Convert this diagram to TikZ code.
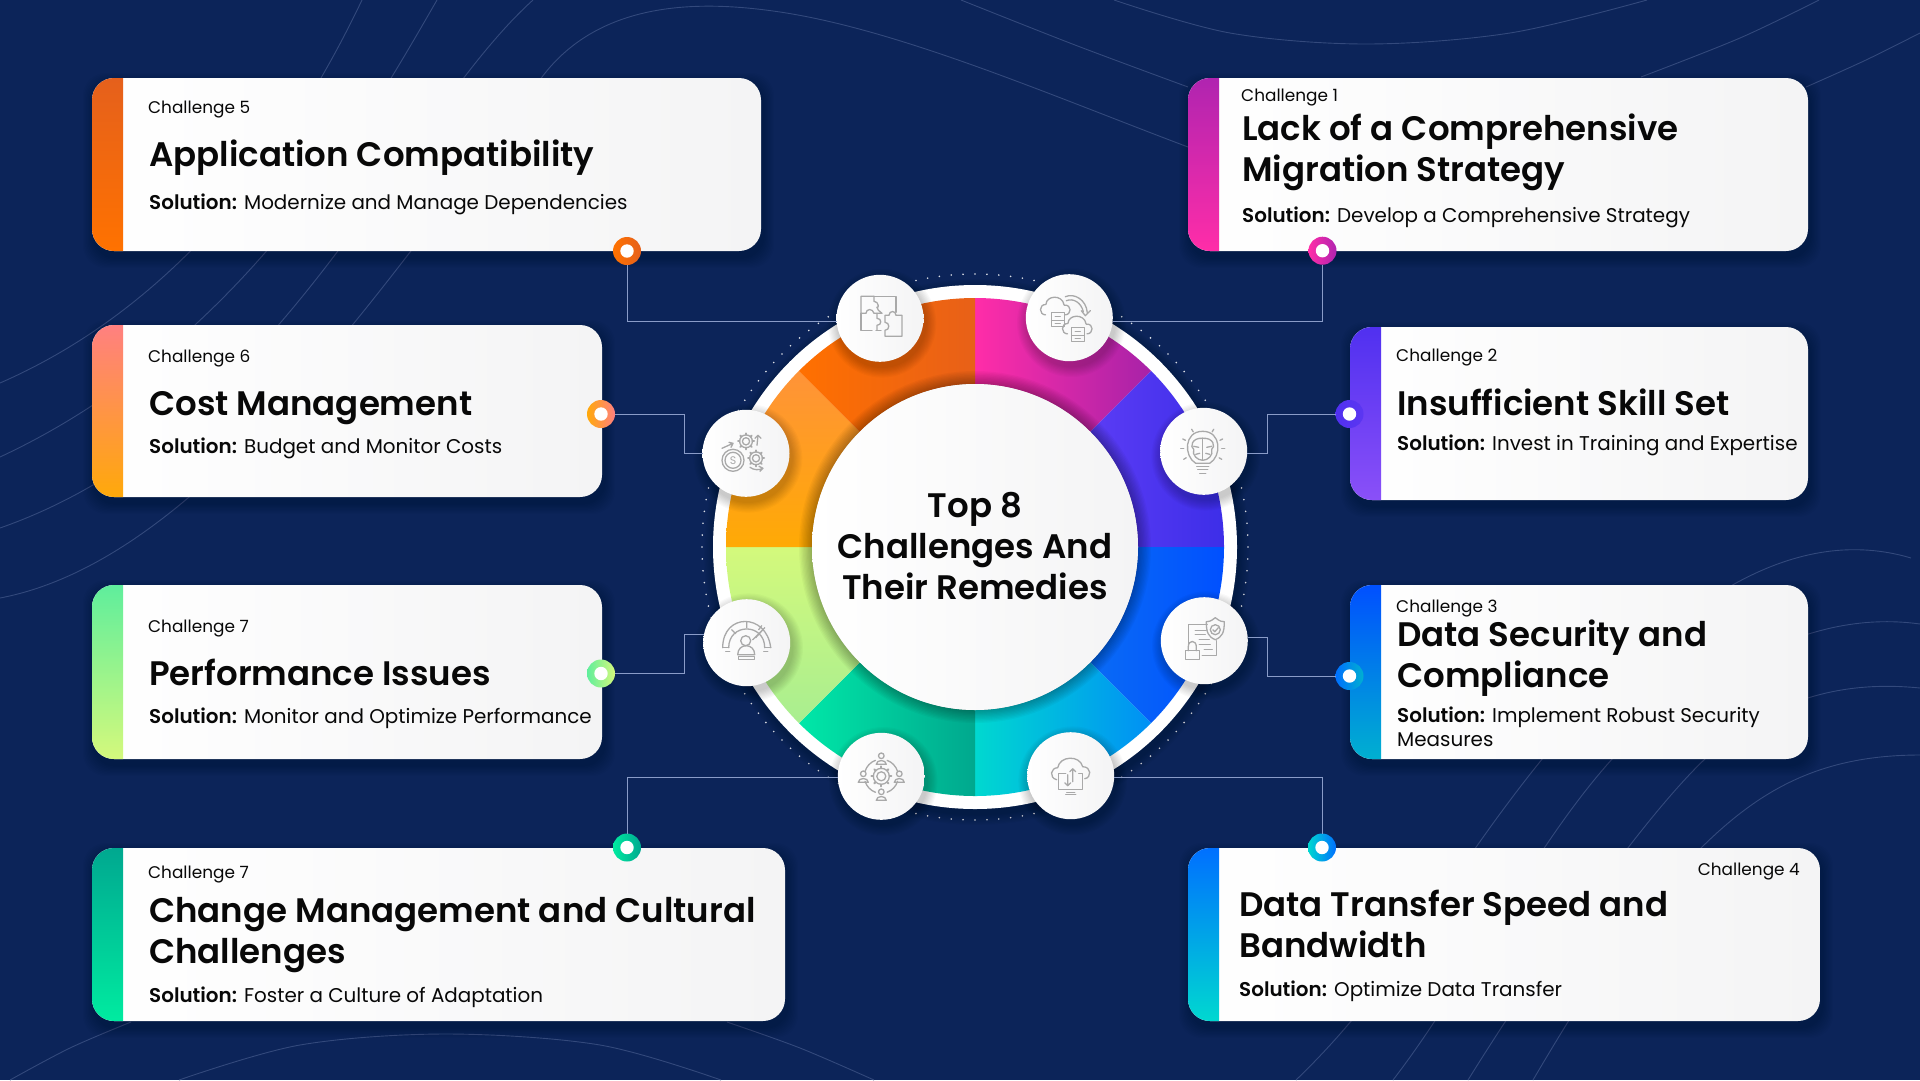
\documentclass[tikz,border=0pt]{standalone}
\usepackage{fontspec}
\setmainfont{Poppins}
\newfontfamily\semib{Poppins SemiBold}
\usetikzlibrary{calc}
\definecolor{bgnavy}{HTML}{0C2459}
\definecolor{bgline}{HTML}{33497C}
\definecolor{wirecol}{HTML}{8A9CC8}
\definecolor{cardend}{HTML}{F4F4F5}
\definecolor{iconcol}{HTML}{A9A9A9}
\definecolor{inkcol}{HTML}{080808}
\newcommand{\hx}[2]{\definecolor{#1}{HTML}{#2}}
\hx{ca}{B024B0}\hx{cb}{FF2DA8}
\hx{cc}{5030F0}\hx{cd}{8A50F8}
\hx{ce}{0050FF}\hx{cf}{00B0D0}
\hx{cg}{0070FF}\hx{ch}{00D8D0}
\hx{ci}{E5601C}\hx{cj}{FF7200}
\hx{ck}{FF8080}\hx{cl}{FFA90A}
\hx{cm}{5FEE9C}\hx{cn}{D4F97C}
\hx{co}{00A890}\hx{cp}{00EBA0}
\hx{wa}{FF2DA8}\hx{wb}{A822A8}
\hx{wc}{5B3CF5}\hx{wd}{3D2EE8}
\hx{we}{0A6BF5}\hx{wf}{0050FF}
\hx{wg}{00D8D0}\hx{wh}{0090F5}
\hx{wi}{00E8A8}\hx{wj}{00A88E}
\hx{wk}{D4F97C}\hx{wl}{A8EE90}
\hx{wm}{FF9338}\hx{wn}{FFAA05}
\hx{wo}{FF7000}\hx{wp}{E86018}
\tikzset{
  bgcurve/.style={draw=bgline,line width=0.9pt},
  bgsmooth/.style={draw=bgline,line width=0.9pt,smooth,tension=0.55},
  wire/.style={draw=wirecol,line width=1pt},
  cardbox/.style={rounded corners=22pt,left color=white,right color=cardend,inner sep=0pt,outer sep=0pt,anchor=north west},
  iconbox/.style={circle,minimum size=87pt,inner sep=0pt,outer sep=0pt,left color=white,right color=cardend},
  hubbox/.style={circle,minimum size=326pt,inner sep=0pt,outer sep=0pt,left color=white,right color=cardend},
  pin/.style={circle,minimum size=28pt,inner sep=0pt,outer sep=0pt,path picture={\fill[white] (path picture bounding box.center) circle (6.7pt);}},
  tagtext/.style={anchor=base west,inner sep=0pt,text=inkcol,font=\fontsize{16.9}{21}\selectfont},
  headtext/.style={anchor=base west,inner sep=0pt,align=left,text=inkcol,font=\fontsize{34}{40.5}\selectfont\semib},
  bodytext/.style={anchor=base west,inner sep=0pt,align=left,text=inkcol,font=\fontsize{19.9}{24}\selectfont},
  ic/.style={draw=iconcol,line width=1.3pt,line cap=round,line join=round},
}
\newcommand{\softshadow}[4]{%
  \foreach \i in {1,...,9}{%
    \fill[black,opacity=0.02,rounded corners=22pt] (#1-\i*1.2+2,#2-\i*1.2+6) rectangle (#3+\i*1.2+2,#4+\i*1.2+6);}}
\newcommand{\roundshadow}[3]{%
  \foreach \i in {1,...,9}{%
    \fill[black,opacity=0.025] (#1+2,#2+5) circle ({(#3+\i*1.2)*1pt});}}
\newcommand{\cardbar}[6]{% x barx ytop ybot colour colour
  \shade[top color=#5,bottom color=#6] (#2,#3) [rounded corners=22pt] -- (#1,#3) -- (#1,#4) [sharp corners] -- (#2,#4) -- cycle;}
\newcommand{\wheelpart}[3]{% from to style
  \shade[#3] ($(975,547)+(#1:163)$) arc (#1:#2:163pt) -- ($(975,547)+(#2:249)$) arc (#2:#1:249pt) -- cycle;}
\newcommand{\cloudmark}[3]{%
  \begin{scope}[shift={(#1,#2)},scale=#3]
  \draw[ic] (-0.75,0.55) .. controls (-1.25,0.55) and (-1.3,-0.25) .. (-0.72,-0.25) .. controls (-0.7,-0.95) and (0.55,-1.05) .. (0.68,-0.2) .. controls (1.3,-0.25) and (1.25,0.55) .. (0.75,0.55);
  \end{scope}}
\newcommand{\gearmark}[3]{%
  \draw[ic] (#1,#2) circle ({#3*0.45pt});
  \draw[ic] (#1,#2) circle ({#3*0.8pt});
  \foreach \a in {0,45,...,315}{\draw[ic,line width=2pt] ($(#1,#2)+(\a:#3*0.8)$) -- ($(#1,#2)+(\a:#3)$);}}
\newcommand{\personmark}[2]{%
  \draw[ic] (#1,#2-2.5) circle (2.8pt);
  \draw[ic] (#1-5,#2+6) .. controls (#1-5,#2+1) and (#1+5,#2+1) .. (#1+5,#2+6) -- cycle;}
\begin{document}
\begin{tikzpicture}[x=1pt,y=1pt,yscale=-1]
\useasboundingbox (0,0) rectangle (1920,1080);
\fill[bgnavy] (0,0) rectangle (1920,1080);

% background curves
\draw[bgcurve] (362,0) .. controls (300,130) and (190,300) .. (0,383);
\draw[bgcurve] (437,0) .. controls (365,125) and (240,345) .. (0,457);
\draw[bgcurve] (533,0) .. controls (400,120) and (280,430) .. (0,528);
\draw[bgcurve] (0,598) .. controls (200,560) and (380,290) .. (542,77) .. controls (600,0) and (700,0) .. (780,12) .. controls (900,30) and (1050,95) .. (1188,147);
\draw[bgsmooth] plot coordinates {(961,0)(1075,45)(1188,87)};
\draw[bgsmooth] plot coordinates {(1114,0)(1230,33)(1366,44)(1510,33)(1647,0)};
\draw[bgsmooth] plot coordinates {(1819,0)(1740,38)(1641,77)};
\draw[bgsmooth] plot coordinates {(1920,33)(1866,60)(1806,87)};
\draw[bgsmooth] plot coordinates {(131,1022)(70,1048)(10,1080)};
\draw[bgsmooth] plot coordinates {(179,1080)(300,1045)(446,1034)(600,1045)(721,1080)};
\draw[bgsmooth] plot coordinates {(727,1022)(800,1048)(874,1080)};
\draw[bgcurve] (1911,558) .. controls (1800,525) and (1680,590) .. (1543,758) .. controls (1440,885) and (1400,980) .. (1296,1080);
\draw[bgcurve] (1920,624) .. controls (1820,610) and (1720,660) .. (1613,758) .. controls (1530,850) and (1470,980) .. (1393,1080);
\draw[bgcurve] (1920,688) .. controls (1840,680) and (1770,700) .. (1706,758) .. controls (1640,820) and (1530,980) .. (1468,1080);
\draw[bgcurve] (1920,755) .. controls (1820,755) and (1760,790) .. (1702,847) .. controls (1630,920) and (1580,1000) .. (1533,1080);

% dotted orbit
\foreach \a in {0,2.5,...,357.5}{\fill[white,opacity=0.85] ($(975,547)+(\a:273)$) circle (0.9pt);}

% card shadows
\softshadow{92}{78}{761}{251}
\softshadow{92}{325}{602}{497}
\softshadow{92}{585}{602}{759}
\softshadow{92}{848}{785}{1021}
\softshadow{1188}{78}{1808}{251}
\softshadow{1350}{327}{1808}{500}
\softshadow{1350}{585}{1808}{759}
\softshadow{1188}{848}{1820}{1021}

% cards
\node[cardbox,minimum width=669pt,minimum height=173pt] (card5) at (92,78) {};
\node[cardbox,minimum width=510pt,minimum height=172pt] (card6) at (92,325) {};
\node[cardbox,minimum width=510pt,minimum height=174pt] (card7a) at (92,585) {};
\node[cardbox,minimum width=693pt,minimum height=173pt] (card7b) at (92,848) {};
\node[cardbox,minimum width=620pt,minimum height=173pt] (card1) at (1188,78) {};
\node[cardbox,minimum width=458pt,minimum height=173pt] (card2) at (1350,327) {};
\node[cardbox,minimum width=458pt,minimum height=174pt] (card3) at (1350,585) {};
\node[cardbox,minimum width=632pt,minimum height=173pt] (card4) at (1188,848) {};
\cardbar{92}{123}{78}{251}{ci}{cj}
\cardbar{92}{123}{325}{497}{ck}{cl}
\cardbar{92}{123}{585}{759}{cm}{cn}
\cardbar{92}{123}{848}{1021}{co}{cp}
\cardbar{1188}{1219}{78}{251}{ca}{cb}
\cardbar{1350}{1381}{327}{500}{cc}{cd}
\cardbar{1350}{1381}{585}{759}{ce}{cf}
\cardbar{1188}{1219}{848}{1021}{cg}{ch}

% wheel
\roundshadow{975}{547}{262}
\fill[white] (975,547) circle (262pt);
\wheelpart{270}{315}{left color=wa,right color=wb}
\wheelpart{315}{360}{left color=wc,right color=wd}
\wheelpart{0}{45}{left color=we,right color=wf}
\wheelpart{45}{90}{left color=wg,right color=wh}
\wheelpart{90}{135}{left color=wi,right color=wj}
\wheelpart{135}{180}{top color=wk,bottom color=wl}
\wheelpart{180}{225}{top color=wm,bottom color=wn}
\wheelpart{225}{270}{left color=wo,right color=wp}
\foreach \i in {1,...,10}{\fill[black,opacity=0.03] (975,547) circle ({(163+\i*1.3)*1pt});}
\node[hubbox] (hub) at (975,547) {};
\node[inner sep=0pt,align=center,text=inkcol,font=\fontsize{34}{41}\selectfont\semib] (hubtext) at (975,546) {Top 8\\Challenges And\\Their Remedies};

% icon discs
\roundshadow{1069.3}{317.7}{43.5}
\roundshadow{1203.7}{451.3}{43.5}
\roundshadow{1204.3}{640.7}{43.5}
\roundshadow{1070.7}{775.7}{43.5}
\roundshadow{880}{318.3}{43.5}
\roundshadow{746}{453.3}{43.5}
\roundshadow{746.7}{642.7}{43.5}
\roundshadow{881.3}{776.3}{43.5}
\node[iconbox] (ic1) at (1069.3,317.7) {};
\node[iconbox] (ic2) at (1203.7,451.3) {};
\node[iconbox] (ic3) at (1204.3,640.7) {};
\node[iconbox] (ic4) at (1070.7,775.7) {};
\node[iconbox] (ic5) at (880,318.3) {};
\node[iconbox] (ic6) at (746,453.3) {};
\node[iconbox] (ic7) at (746.7,642.7) {};
\node[iconbox] (ic8) at (881.3,776.3) {};

% pins
\node[pin,left color=cb,right color=ca] (d1) at (1322.5,250.7) {};
\node[pin,left color=cc,right color=cc!80!cd] (d2) at (1349.5,414) {};
\node[pin,left color=cg,right color=cf] (d3) at (1349.5,676) {};
\node[pin,left color=ch,right color=cg] (d4) at (1322,847.5) {};
\node[pin,left color=cj,right color=ci] (d5) at (627,251) {};
\node[pin,left color=cl,right color=ck] (d6) at (601,414) {};
\node[pin,left color=cm,right color=cn] (d7) at (601,673.5) {};
\node[pin,left color=cp,right color=co] (d8) at (627,847.5) {};

% connectors
\coordinate (k2) at (1267,430);
\coordinate (k3) at (1267,660);
\coordinate (k6) at (684.5,430);
\coordinate (k7) at (684.5,660);
\draw[wire] (d1) |- ($(ic1.east)+(0,3.6)$);
\draw[wire] (d2) -| (k2) |- ($(ic2.east)+(0,2)$);
\draw[wire] (d3) -| (k3) |- ($(ic3.east)+(0,-3.7)$);
\draw[wire] (d4) |- ($(ic4.east)+(0,1.3)$);
\draw[wire] (d5) |- ($(ic5.west)+(0,2.7)$);
\draw[wire] (d6) -| (k6) |- (ic6.west);
\draw[wire] (d7) -| (k7) |- ($(ic7.west)+(0.6,-8.7)$);
\draw[wire] (d8) |- ($(ic8.west)+(0,0.7)$);

% icon 5: puzzle
\begin{scope}[shift={(880,318.3)}]
\draw[ic] (-6,-22)--(-19,-22)--(-19,-5)--(-14,-5) .. controls (-14,-10) and (-7,-10) .. (-6,-5)--(2,-5) .. controls (-1,-8) and (-3,-8) .. (-3,-11);
\draw[ic] (-19,-5)--(-19,12)--(-8,12);
\draw[ic] (-6,-22)--(-6,-17) .. controls (-1,-17) and (-1,-9) .. (-3,-11) ;
\draw[ic] (-6,-22)--(16,-22)--(16,-6);
\draw[ic] (5,-3)--(9,-3) .. controls (9,-8) and (16,-8) .. (16,-3)--(22,-3)--(22,18)--(5,18)--(5,12) .. controls (10,12) and (10,4) .. (5,4)--cycle;
\draw[ic] (-4,12)--(1,12);
\draw[ic] (-3,-5)--(-3,0) .. controls (2,0) and (2,7) .. (-3,7)--(-3,12);
\end{scope}

% icon 1: clouds
\begin{scope}[shift={(1069.3,317.7)}]
\cloudmark{-14}{-10}{13}
\cloudmark{8}{9}{13}
\draw[ic] (-18,-5) rectangle (-5,3);
\draw[ic] (-18,3) rectangle (-5,9);
\draw[ic] (-14,-1)--(-9,-1) (-14,6)--(-9,6);
\draw[ic] (2,10) rectangle (15,18);
\draw[ic] (2,18) rectangle (15,24);
\draw[ic] (6,14)--(11,14) (6,21)--(11,21);
\draw[ic] (-4,-21) .. controls (5,-25) and (17,-18) .. (18,-5);
\draw[ic] (-3,-17) .. controls (4,-20) and (12,-15) .. (14,-6);
\draw[ic] (12,-7)--(16,-2)--(21,-7);
\end{scope}

% icon 2: bulb
\begin{scope}[shift={(1203.7,451.3)}]
\draw[ic] (-8,12) .. controls (-20,5) and (-20,-20) .. (-1,-20) .. controls (18,-20) and (18,5) .. (6,12) -- cycle;
\draw[ic] (-1,-13) -- (-1,9);
\draw[ic] (-1,-13) .. controls (-12,-14) and (-14,-4) .. (-10,-2) .. controls (-12,4) and (-6,9) .. (-1,9);
\draw[ic] (-1,-13) .. controls (10,-14) and (12,-4) .. (8,-2) .. controls (10,4) and (4,9) .. (-1,9);
\draw[ic] (-10,-5)--(-5,-4) (8,-5)--(3,-4) (-8,3)--(-4,2) (6,3)--(2,2);
\draw[ic] (-7,15)--(5,15) (-6,18)--(4,18) (-4,22)--(2,22);
\foreach \a in {150,180,205,240,300,335,0,30}{\draw[ic] ($(-1,-3)+(\a:19)$) -- ($(-1,-3)+(\a:22)$);}
\end{scope}

% icon 3: document
\begin{scope}[shift={(1204.3,640.7)}]
\draw[ic] (-2,-16)--(-16,-16)--(-16,7);
\draw[ic] (-2,-16)--(3,-16) (-2,15)--(12,15)--(12,0);
\draw[ic] (-9,-10)--(2,-10) (-9,-6)--(1,-6) (-5,-1)--(5,-1) (-5,4)--(6,4) (0,9)--(8,9);
\draw[ic] (11,-23) .. controls (6,-19) and (4,-19) .. (2,-19) .. controls (2,-8) and (4,-4) .. (11,-1) .. controls (18,-4) and (20,-8) .. (20,-19) .. controls (18,-19) and (16,-19) .. (11,-23) -- cycle;
\draw[ic] (11,-11) circle (5pt);
\draw[ic] (8.5,-11)--(10.5,-9)--(14,-13);
\draw[ic] (-19,10) rectangle (-5,19);
\draw[ic] (-16,10)--(-16,6) .. controls (-16,-1) and (-8,-1) .. (-8,6) -- (-8,10);
\end{scope}

% icon 4: cloud monitor
\begin{scope}[shift={(1070.7,775.7)}]
\draw[ic] (-14,4) .. controls (-22,2) and (-20,-8) .. (-13,-8) .. controls (-11,-20) and (9,-21) .. (12,-9) .. controls (21,-9) and (21,2) .. (14,3);
\draw[ic] (-5,-2)--(-12,-2)--(-12,14)--(12,14)--(12,-2)--(8,-2);
\draw[ic] (-4,17)--(4,17) (-5,19)--(5,19);
\draw[ic] (2,-7)--(2,6) (-1,-4)--(2,-7)--(5,-4);
\draw[ic] (-3,-1)--(-3,10) (-6,7)--(-3,10)--(0,7);
\end{scope}

% icon 8: people and gear
\begin{scope}[shift={(881.3,776.3)}]
\gearmark{0}{0}{10}
\personmark{0}{-18}
\personmark{0}{18}
\personmark{-18}{0}
\personmark{18}{0}
\draw[ic] (17:17pt) arc (17:70:17pt);
\draw[ic] (110:17pt) arc (110:163:17pt);
\draw[ic] (197:17pt) arc (197:250:17pt);
\draw[ic] (290:17pt) arc (290:343:17pt);
\end{scope}

% icon 7: gauge
\begin{scope}[shift={(746.7,642.7)}]
\draw[ic] (-24,5) .. controls (-24,-30) and (20,-30) .. (24,5);
\draw[ic] (-18,5) .. controls (-18,-20) and (18,-20) .. (18,5);
\draw[ic] (-24,5)--(-18,5) (18,5)--(24,5);
\draw[ic] (-21,9)--(-17,9) (17,9)--(21,9);
\draw[ic] (-11,-9)--(-15,-13) (0,-15)--(0,-21) (12,-13)--(15,-17);
\draw[ic] (6,-3)--(18,-15)--(9,-5);
\draw[ic] (-1,-2) circle (5pt);
\draw[ic] (-9,12) .. controls (-9,0) and (8,0) .. (8,12) -- cycle;
\draw[ic] (-8,14) rectangle (8,17);
\end{scope}

% icon 6: coins and gears
\begin{scope}[shift={(746,453.3)}]
\draw[ic] (-13,7) circle (11pt);
\draw[ic] (-13,7) circle (8pt);
\node[inner sep=0pt,text=iconcol,font=\fontsize{11}{11}\selectfont] (coinmark) at (-13,7) {S};
\gearmark{0}{-12}{8}
\gearmark{10}{5}{8}
\draw[ic] (-24,-5)--(-13,-10) (-17,-11)--(-13,-10)--(-15,-6);
\draw[ic] (11,-8)--(12,-18) (9,-15)--(12,-18)--(15,-15);
\draw[ic] (4,14) .. controls (8,17) and (13,17) .. (17,15) (13,13)--(17,15)--(14,18);
\end{scope}

% texts
\node[tagtext] (t5a) at (148,113) {Challenge 5};
\node[headtext] (t5b) at (149,166) {Application Compatibility};
\node[bodytext] (t5c) at (149,209) {{\semib Solution:} Modernize and Manage Dependencies};

\node[tagtext] (t6a) at (148,362) {Challenge 6};
\node[headtext] (t6b) at (149,415) {Cost Management};
\node[bodytext] (t6c) at (149,453) {{\semib Solution:} Budget and Monitor Costs};

\node[tagtext] (t7a) at (148,632) {Challenge 7};
\node[headtext] (t7b) at (149,685) {Performance Issues};
\node[bodytext] (t7c) at (149,723) {{\semib Solution:} Monitor and Optimize Performance};

\node[tagtext] (t8a) at (148,878) {Challenge 7};
\node[headtext] (t8b) at (149,963) {Change Management and Cultural\\Challenges};
\node[bodytext] (t8c) at (149,1002) {{\semib Solution:} Foster a Culture of Adaptation};

\node[tagtext] (t1a) at (1241,101) {Challenge 1};
\node[headtext] (t1b) at (1242,181) {Lack of a Comprehensive\\Migration Strategy};
\node[bodytext] (t1c) at (1242,222) {{\semib Solution:} Develop a Comprehensive Strategy};

\node[tagtext] (t2a) at (1396,361) {Challenge 2};
\node[headtext] (t2b) at (1397,415) {Insufficient Skill Set};
\node[bodytext] (t2c) at (1397,450) {{\semib Solution:} Invest in Training and Expertise};

\node[tagtext] (t3a) at (1396,612) {Challenge 3};
\node[headtext] (t3b) at (1397,687) {Data Security and\\Compliance};
\node[bodytext] (t3c) at (1397,746) {{\semib Solution:} Implement Robust Security\\Measures};

\node[tagtext,anchor=base east] (t4a) at (1800,875) {Challenge 4};
\node[headtext] (t4b) at (1239,957) {Data Transfer Speed and\\Bandwidth};
\node[bodytext] (t4c) at (1239,996) {{\semib Solution:} Optimize Data Transfer};
\end{tikzpicture}
\end{document}
